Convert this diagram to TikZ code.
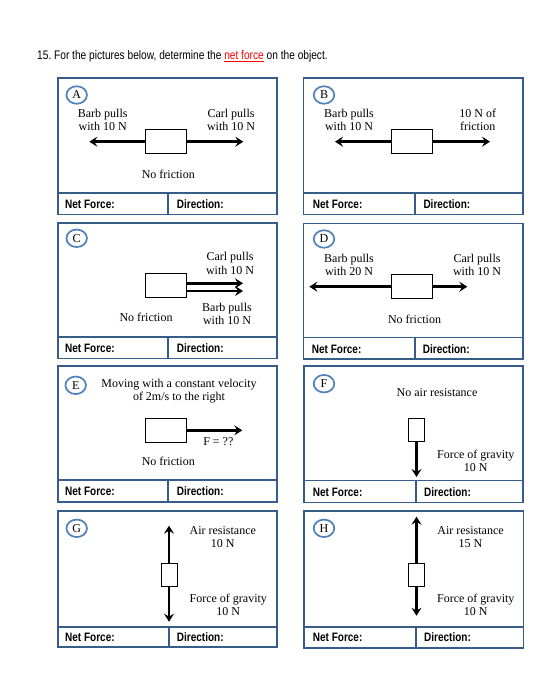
\documentclass[tikz,border=0pt]{standalone}
\usepackage{fontspec}
\setmainfont{Liberation Serif}
\newfontfamily\narrowsans[FakeStretch=0.82]{Liberation Sans}
\usetikzlibrary{arrows.meta,shapes.geometric}
\definecolor{frameblue}{HTML}{385D8A}
\definecolor{ringblue}{HTML}{4F81BD}
\tikzset{
  frameline/.style={draw=frameblue,line width=1.2pt},
  tag/.style={ellipse,draw=ringblue,line width=1.7pt,minimum width=20.5pt,minimum height=17.5pt,inner sep=0pt,font=\fontsize{12}{13.3}\selectfont},
  lbl/.style={align=center,inner sep=0pt,font=\fontsize{12}{13.3}\selectfont},
  objbox/.style={draw,line width=0.9pt,minimum width=41pt,minimum height=24pt,inner sep=0pt},
  tallbox/.style={draw,line width=0.9pt,minimum width=16pt,minimum height=23pt,inner sep=0pt},
  force/.style={line width=2.6pt,-{Stealth[length=8pt,width=10pt,inset=3pt]}},
  nf/.style={anchor=west,inner sep=0pt,font=\narrowsans\bfseries\fontsize{12.2}{14}\selectfont},
}
\newcommand\panelframe[6]{% left right top sep bottom divider
  \draw[frameline] (#1,#3) rectangle (#2,#5);
  \draw[frameline] (#1,#4) -- (#2,#4) (#6,#4) -- (#6,#5);
}
\begin{document}
\begin{tikzpicture}[x=1pt,y=-1pt]
\useasboundingbox[fill=white] (0,0) rectangle (541,685);

% title
\node[anchor=west,inner sep=0pt,font=\narrowsans\fontsize{12.4}{14}\selectfont] (title) at (37,56.7)
  {15.\ For the pictures below, determine the \textcolor{red}{\underline{net force}} on the object.};

% ---------- A ----------
\panelframe{58}{277}{78}{193}{214.5}{168}
\node[tag] (tA) at (76.7,95) {A};
\node[objbox] (bA) at (166.2,141.7) {};
\coordinate (lA) at (89.3,141.7);
\coordinate (rA) at (243.3,141.7);
\draw[force] (bA.west) -- (lA);
\draw[force] (bA.east) -- (rA);
\node[lbl] (barbA) at (102.7,120) {Barb pulls\\with 10 N};
\node[lbl] (carlA) at (231,120) {Carl pulls\\with 10 N};
\node[lbl] (nfA) at (168.3,174) {No friction};
\node[nf] (netA) at (65,204) {Net Force:};
\node[nf] (dirA) at (176.7,204) {Direction:};

% ---------- B ----------
\panelframe{303.5}{523}{78}{193}{214.5}{415}
\node[tag] (tB) at (324,95) {B};
\node[objbox] (bB) at (412.2,141.7) {};
\coordinate (lB) at (335,141.7);
\coordinate (rB) at (490,141.7);
\draw[force] (bB.west) -- (lB);
\draw[force] (bB.east) -- (rB);
\node[lbl] (barbB) at (349,120) {Barb pulls\\with 10 N};
\node[lbl] (fricB) at (477.7,120) {10 N of\\friction};
\node[nf] (netB) at (312.7,204) {Net Force:};
\node[nf] (dirB) at (423.3,204) {Direction:};

% ---------- C ----------
\panelframe{58}{277}{223}{337}{358.5}{168}
\node[tag] (tC) at (76.7,238.3) {C};
\node[objbox] (bC) at (165.9,285.3) {};
\coordinate (c1) at (243,283.3);
\coordinate (c2) at (243,291);
\draw[force] (bC.east |- c1) -- (c1);
\draw[force] (bC.east |- c2) -- (c2);
\node[lbl] (carlC) at (230,263.5) {Carl pulls\\with 10 N};
\node[lbl] (barbC) at (227,314) {Barb pulls\\with 10 N};
\node[lbl] (nfC) at (146,317.3) {No friction};
\node[nf] (netC) at (65,348) {Net Force:};
\node[nf] (dirC) at (176.7,348) {Direction:};

% ---------- D ----------
\panelframe{303.5}{523}{223.5}{337.5}{359}{415}
\node[tag] (tD) at (324,239) {D};
\node[objbox] (bD) at (412.2,286.7) {};
\coordinate (lD) at (309.3,286.7);
\coordinate (rD) at (467.3,286.7);
\draw[force] (bD.west) -- (lD);
\draw[force] (bD.east) -- (rD);
\node[lbl] (barbD) at (349,265) {Barb pulls\\with 20 N};
\node[lbl] (carlD) at (477,265) {Carl pulls\\with 10 N};
\node[lbl] (nfD) at (414.5,319) {No friction};
\node[nf] (netD) at (311.7,349) {Net Force:};
\node[nf] (dirD) at (422.7,349) {Direction:};

% ---------- E ----------
\panelframe{58}{277}{366}{480}{502}{168}
\node[tag] (tE) at (75.7,385.3) {E};
\node[lbl] (movE) at (179,391) {Moving with a constant velocity\\of 2m/s to the right};
\node[objbox] (bE) at (165.9,430.3) {};
\coordinate (rE) at (242.3,430.3);
\draw[force] (bE.east) -- (rE);
\node[lbl] (fE) at (218.3,442) {F = ??};
\node[lbl] (nfE) at (168.3,461.3) {No friction};
\node[nf] (netE) at (65,491.5) {Net Force:};
\node[nf] (dirE) at (176.7,491.5) {Direction:};

% ---------- F ----------
\panelframe{304}{523}{366}{480.5}{502.5}{416}
\node[tag] (tF) at (324,383.7) {F};
\node[lbl] (noairF) at (437,393) {No air resistance};
\node[tallbox] (bF) at (416.5,430) {};
\coordinate (dF) at (416.5,477);
\draw[force] (bF.south) -- (dF);
\node[lbl] (gF) at (475.8,460.5) {Force of gravity\\10 N};
\node[nf] (netF) at (312.7,492) {Net Force:};
\node[nf] (dirF) at (424,492) {Direction:};

% ---------- G ----------
\panelframe{58}{277}{511}{627}{647}{169}
\node[tag] (tG) at (76.7,528.3) {G};
\node[tallbox] (bG) at (169,574.5) {};
\coordinate (uG) at (169,525.7);
\coordinate (dG) at (169,621.7);
\draw[force] (bG.north) -- (uG);
\draw[force] (bG.south) -- (dG);
\node[lbl] (airG) at (222.8,537) {Air resistance\\10 N};
\node[lbl] (gG) at (228.3,605) {Force of gravity\\10 N};
\node[nf] (netG) at (65,637) {Net Force:};
\node[nf] (dirG) at (176.7,637) {Direction:};

% ---------- H ----------
\panelframe{304}{523.3}{511}{627}{648}{416}
\node[tag] (tH) at (324,528.3) {H};
\node[tallbox] (bH) at (416.5,574.5) {};
\coordinate (uH) at (416.5,516.7);
\coordinate (dH) at (416.5,615.7);
\draw[force] (bH.north) -- (uH);
\draw[force] (bH.south) -- (dH);
\node[lbl] (airH) at (470.5,537) {Air resistance\\15 N};
\node[lbl] (gH) at (475.8,605) {Force of gravity\\10 N};
\node[nf] (netH) at (312.7,637.5) {Net Force:};
\node[nf] (dirH) at (424,637.5) {Direction:};
\end{tikzpicture}
\end{document}
